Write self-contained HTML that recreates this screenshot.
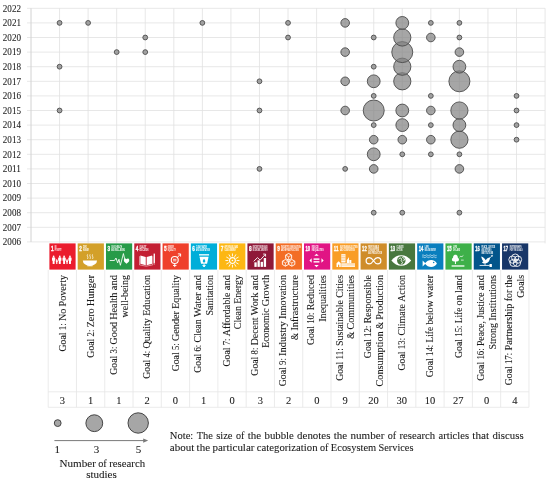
<!DOCTYPE html>
<html lang="en"><head><meta charset="utf-8"><title>Ecosystem services research mapped to the Sustainable Development Goals</title>
<style>
html,body{margin:0;padding:0;background:#fff;}
body{width:550px;height:481px;overflow:hidden;font-family:"Liberation Serif","DejaVu Serif",serif;}
svg{display:block;}
text{font-family:"Liberation Serif","DejaVu Serif",serif;fill:#1a1a1a;}
.gl,.ct,.lg,.nt{stroke:#1a1a1a;stroke-width:0.08px;}
.yl{stroke:#111;stroke-width:0.06px;}
.yl{font-size:9.3px;}
.gl{font-size:9.3px;}
.ct{font-size:10.7px;}
.lg{font-size:10px;}
.nt{font-size:10px;}
.num{font-family:"Liberation Sans","DejaVu Sans",sans-serif;font-weight:bold;fill:#fff;font-size:7.2px;stroke:#fff;stroke-width:0.3px;}
.ttl{font-family:"Liberation Sans","DejaVu Sans",sans-serif;font-weight:bold;fill:#fff;font-size:2.6px;}
</style></head><body>
<svg width="550" height="481" viewBox="0 0 550 481">
<rect width="550" height="481" fill="#fff"/>

<g stroke="#e1e1e1" stroke-width="0.8">
<line x1="27" y1="8.30" x2="545.08" y2="8.30" stroke="#d6d6d6" stroke-width="0.6"/>
<line x1="27" y1="22.90" x2="545.08" y2="22.90" stroke="#d6d6d6" stroke-width="0.6"/>
<line x1="27" y1="37.50" x2="545.08" y2="37.50" stroke="#d6d6d6" stroke-width="0.6"/>
<line x1="27" y1="52.10" x2="545.08" y2="52.10" stroke="#d6d6d6" stroke-width="0.6"/>
<line x1="27" y1="66.70" x2="545.08" y2="66.70" stroke="#d6d6d6" stroke-width="0.6"/>
<line x1="27" y1="81.30" x2="545.08" y2="81.30" stroke="#d6d6d6" stroke-width="0.6"/>
<line x1="27" y1="95.90" x2="545.08" y2="95.90" stroke="#d6d6d6" stroke-width="0.6"/>
<line x1="27" y1="110.50" x2="545.08" y2="110.50" stroke="#d6d6d6" stroke-width="0.6"/>
<line x1="27" y1="125.10" x2="545.08" y2="125.10" stroke="#d6d6d6" stroke-width="0.6"/>
<line x1="27" y1="139.70" x2="545.08" y2="139.70" stroke="#d6d6d6" stroke-width="0.6"/>
<line x1="27" y1="154.30" x2="545.08" y2="154.30" stroke="#d6d6d6" stroke-width="0.6"/>
<line x1="27" y1="168.90" x2="545.08" y2="168.90" stroke="#d6d6d6" stroke-width="0.6"/>
<line x1="27" y1="183.50" x2="545.08" y2="183.50" stroke="#d6d6d6" stroke-width="0.6"/>
<line x1="27" y1="198.10" x2="545.08" y2="198.10" stroke="#d6d6d6" stroke-width="0.6"/>
<line x1="27" y1="212.70" x2="545.08" y2="212.70" stroke="#d6d6d6" stroke-width="0.6"/>
<line x1="27" y1="227.30" x2="545.08" y2="227.30" stroke="#d6d6d6" stroke-width="0.6"/>
<line x1="27" y1="241.90" x2="545.08" y2="241.90" stroke="#d6d6d6" stroke-width="0.6"/>
<line x1="31.00" y1="8.30" x2="31.00" y2="241.90" stroke="#d2d2d2" stroke-width="1"/>
<line x1="59.56" y1="8.30" x2="59.56" y2="243.40"/>
<line x1="88.12" y1="8.30" x2="88.12" y2="243.40"/>
<line x1="116.68" y1="8.30" x2="116.68" y2="243.40"/>
<line x1="145.24" y1="8.30" x2="145.24" y2="243.40"/>
<line x1="173.80" y1="8.30" x2="173.80" y2="243.40"/>
<line x1="202.36" y1="8.30" x2="202.36" y2="243.40"/>
<line x1="230.92" y1="8.30" x2="230.92" y2="243.40"/>
<line x1="259.48" y1="8.30" x2="259.48" y2="243.40"/>
<line x1="288.04" y1="8.30" x2="288.04" y2="243.40"/>
<line x1="316.60" y1="8.30" x2="316.60" y2="243.40"/>
<line x1="345.16" y1="8.30" x2="345.16" y2="243.40"/>
<line x1="373.72" y1="8.30" x2="373.72" y2="243.40"/>
<line x1="402.28" y1="8.30" x2="402.28" y2="243.40"/>
<line x1="430.84" y1="8.30" x2="430.84" y2="243.40"/>
<line x1="459.40" y1="8.30" x2="459.40" y2="243.40"/>
<line x1="487.96" y1="8.30" x2="487.96" y2="243.40"/>
<line x1="516.52" y1="8.30" x2="516.52" y2="243.40"/>
<line x1="545.08" y1="8.30" x2="545.08" y2="243.40"/>
</g>
<text class="yl" y="245.10"><tspan x="2.80" textLength="18.20" lengthAdjust="spacingAndGlyphs">2006</tspan></text>
<text class="yl" y="230.50"><tspan x="2.80" textLength="18.20" lengthAdjust="spacingAndGlyphs">2007</tspan></text>
<text class="yl" y="215.90"><tspan x="2.80" textLength="18.20" lengthAdjust="spacingAndGlyphs">2008</tspan></text>
<text class="yl" y="201.30"><tspan x="2.80" textLength="18.20" lengthAdjust="spacingAndGlyphs">2009</tspan></text>
<text class="yl" y="186.70"><tspan x="2.80" textLength="18.20" lengthAdjust="spacingAndGlyphs">2010</tspan></text>
<text class="yl" y="172.10"><tspan x="2.80" textLength="18.20" lengthAdjust="spacingAndGlyphs">2011</tspan></text>
<text class="yl" y="157.50"><tspan x="2.80" textLength="18.20" lengthAdjust="spacingAndGlyphs">2012</tspan></text>
<text class="yl" y="142.90"><tspan x="2.80" textLength="18.20" lengthAdjust="spacingAndGlyphs">2013</tspan></text>
<text class="yl" y="128.30"><tspan x="2.80" textLength="18.20" lengthAdjust="spacingAndGlyphs">2014</tspan></text>
<text class="yl" y="113.70"><tspan x="2.80" textLength="18.20" lengthAdjust="spacingAndGlyphs">2015</tspan></text>
<text class="yl" y="99.10"><tspan x="2.80" textLength="18.20" lengthAdjust="spacingAndGlyphs">2016</tspan></text>
<text class="yl" y="84.50"><tspan x="2.80" textLength="18.20" lengthAdjust="spacingAndGlyphs">2017</tspan></text>
<text class="yl" y="69.90"><tspan x="2.80" textLength="18.20" lengthAdjust="spacingAndGlyphs">2018</tspan></text>
<text class="yl" y="55.30"><tspan x="2.80" textLength="18.20" lengthAdjust="spacingAndGlyphs">2019</tspan></text>
<text class="yl" y="40.70"><tspan x="2.80" textLength="18.20" lengthAdjust="spacingAndGlyphs">2020</tspan></text>
<text class="yl" y="26.10"><tspan x="2.80" textLength="18.20" lengthAdjust="spacingAndGlyphs">2021</tspan></text>
<text class="yl" y="11.50"><tspan x="2.80" textLength="18.20" lengthAdjust="spacingAndGlyphs">2022</tspan></text>
<g fill="#808080" fill-opacity="0.7" stroke="#4a4a4a" stroke-width="0.9">
<circle cx="59.56" cy="110.50" r="2.40"/>
<circle cx="59.56" cy="66.70" r="2.40"/>
<circle cx="59.56" cy="22.90" r="2.40"/>
<circle cx="88.12" cy="22.90" r="2.40"/>
<circle cx="116.68" cy="52.10" r="2.40"/>
<circle cx="145.24" cy="52.10" r="2.40"/>
<circle cx="145.24" cy="37.50" r="2.40"/>
<circle cx="202.36" cy="22.90" r="2.40"/>
<circle cx="259.48" cy="168.90" r="2.40"/>
<circle cx="259.48" cy="110.50" r="2.40"/>
<circle cx="259.48" cy="81.30" r="2.40"/>
<circle cx="288.04" cy="37.50" r="2.40"/>
<circle cx="288.04" cy="22.90" r="2.40"/>
<circle cx="345.16" cy="168.90" r="2.40"/>
<circle cx="345.16" cy="110.50" r="4.30"/>
<circle cx="345.16" cy="81.30" r="4.30"/>
<circle cx="345.16" cy="52.10" r="4.30"/>
<circle cx="345.16" cy="22.90" r="4.30"/>
<circle cx="373.72" cy="212.70" r="2.40"/>
<circle cx="373.72" cy="168.90" r="4.30"/>
<circle cx="373.72" cy="154.30" r="6.40"/>
<circle cx="373.72" cy="139.70" r="4.30"/>
<circle cx="373.72" cy="125.10" r="2.40"/>
<circle cx="373.72" cy="110.50" r="10.50"/>
<circle cx="373.72" cy="95.90" r="2.40"/>
<circle cx="373.72" cy="81.30" r="6.40"/>
<circle cx="373.72" cy="66.70" r="2.40"/>
<circle cx="373.72" cy="37.50" r="2.40"/>
<circle cx="402.28" cy="212.70" r="2.40"/>
<circle cx="402.28" cy="154.30" r="2.40"/>
<circle cx="402.28" cy="139.70" r="4.30"/>
<circle cx="402.28" cy="125.10" r="6.40"/>
<circle cx="402.28" cy="110.50" r="6.40"/>
<circle cx="402.28" cy="81.30" r="8.60"/>
<circle cx="402.28" cy="66.70" r="8.60"/>
<circle cx="402.28" cy="52.10" r="10.50"/>
<circle cx="402.28" cy="37.50" r="8.60"/>
<circle cx="402.28" cy="22.90" r="6.40"/>
<circle cx="430.84" cy="154.30" r="2.40"/>
<circle cx="430.84" cy="139.70" r="4.30"/>
<circle cx="430.84" cy="125.10" r="2.40"/>
<circle cx="430.84" cy="110.50" r="4.30"/>
<circle cx="430.84" cy="95.90" r="2.40"/>
<circle cx="430.84" cy="37.50" r="4.30"/>
<circle cx="430.84" cy="22.90" r="2.40"/>
<circle cx="459.40" cy="212.70" r="2.40"/>
<circle cx="459.40" cy="168.90" r="4.30"/>
<circle cx="459.40" cy="154.30" r="2.40"/>
<circle cx="459.40" cy="139.70" r="8.60"/>
<circle cx="459.40" cy="125.10" r="6.40"/>
<circle cx="459.40" cy="110.50" r="8.60"/>
<circle cx="459.40" cy="81.30" r="10.50"/>
<circle cx="459.40" cy="66.70" r="6.40"/>
<circle cx="459.40" cy="52.10" r="4.30"/>
<circle cx="459.40" cy="37.50" r="2.40"/>
<circle cx="459.40" cy="22.90" r="2.40"/>
<circle cx="516.52" cy="139.70" r="2.40"/>
<circle cx="516.52" cy="125.10" r="2.40"/>
<circle cx="516.52" cy="110.50" r="2.40"/>
<circle cx="516.52" cy="95.90" r="2.40"/>
</g>
<g stroke="#e6e6e6" stroke-width="0.8">
<line x1="48.20" y1="270.0" x2="48.20" y2="407.3"/>
<line x1="76.48" y1="270.0" x2="76.48" y2="407.3"/>
<line x1="104.76" y1="270.0" x2="104.76" y2="407.3"/>
<line x1="133.04" y1="270.0" x2="133.04" y2="407.3"/>
<line x1="161.32" y1="270.0" x2="161.32" y2="407.3"/>
<line x1="189.60" y1="270.0" x2="189.60" y2="407.3"/>
<line x1="217.88" y1="270.0" x2="217.88" y2="407.3"/>
<line x1="246.16" y1="270.0" x2="246.16" y2="407.3"/>
<line x1="274.44" y1="270.0" x2="274.44" y2="407.3"/>
<line x1="302.72" y1="270.0" x2="302.72" y2="407.3"/>
<line x1="331.00" y1="270.0" x2="331.00" y2="407.3"/>
<line x1="359.28" y1="270.0" x2="359.28" y2="407.3"/>
<line x1="387.56" y1="270.0" x2="387.56" y2="407.3"/>
<line x1="415.84" y1="270.0" x2="415.84" y2="407.3"/>
<line x1="444.12" y1="270.0" x2="444.12" y2="407.3"/>
<line x1="472.40" y1="270.0" x2="472.40" y2="407.3"/>
<line x1="500.68" y1="270.0" x2="500.68" y2="407.3"/>
<line x1="528.96" y1="270.0" x2="528.96" y2="407.3"/>
<line x1="48.2" y1="391.8" x2="528.96" y2="391.8"/>
<line x1="48.2" y1="407.3" x2="528.96" y2="407.3"/>
</g>
<g transform="translate(49.40 243.4) scale(1.0077)">
<rect width="26" height="26" fill="#EB1C2D"/>
<text class="num" x="1.5" y="7.6" textLength="2.6" lengthAdjust="spacingAndGlyphs">1</text>
<text class="ttl" x="5.2" y="4.20" textLength="1.96" lengthAdjust="spacingAndGlyphs">NO</text>
<text class="ttl" x="5.2" y="7.45" textLength="6.86" lengthAdjust="spacingAndGlyphs">POVERTY</text>
<circle cx="4.2" cy="12.76" r="0.86" fill="#fff"/><rect x="2.60" y="13.88" width="3.20" height="3.40" rx="0.6" fill="#fff"/><rect x="3.24" y="13.88" width="1.92" height="6.52" fill="#fff"/><circle cx="10.3" cy="12.76" r="0.86" fill="#fff"/><rect x="8.70" y="13.88" width="3.20" height="3.40" rx="0.6" fill="#fff"/><rect x="9.34" y="13.88" width="1.92" height="6.52" fill="#fff"/><circle cx="14.6" cy="12.76" r="0.86" fill="#fff"/><rect x="13.00" y="13.88" width="3.20" height="3.40" rx="0.6" fill="#fff"/><rect x="13.64" y="13.88" width="1.92" height="6.52" fill="#fff"/><circle cx="20.4" cy="12.76" r="0.86" fill="#fff"/><rect x="18.80" y="13.88" width="3.20" height="3.40" rx="0.6" fill="#fff"/><rect x="19.44" y="13.88" width="1.92" height="6.52" fill="#fff"/><circle cx="7.3" cy="15.91" r="0.51" fill="#fff"/><rect x="6.35" y="16.68" width="1.90" height="2.00" rx="0.6" fill="#fff"/><rect x="6.73" y="16.68" width="1.14" height="3.72" fill="#fff"/><circle cx="17.5" cy="15.91" r="0.51" fill="#fff"/><rect x="16.55" y="16.68" width="1.90" height="2.00" rx="0.6" fill="#fff"/><rect x="16.93" y="16.68" width="1.14" height="3.72" fill="#fff"/>
</g>
<g transform="translate(77.69 243.4) scale(1.0077)">
<rect width="26" height="26" fill="#D3A029"/>
<text class="num" x="1.5" y="7.6" textLength="2.6" lengthAdjust="spacingAndGlyphs">2</text>
<text class="ttl" x="5.2" y="4.20" textLength="3.92" lengthAdjust="spacingAndGlyphs">ZERO</text>
<text class="ttl" x="5.2" y="7.45" textLength="5.88" lengthAdjust="spacingAndGlyphs">HUNGER</text>
<path d="M5.1 16.9h14.100a7.050 5.500 0 0 1-14.100 0z" fill="#fff"/><rect x="9.600" y="21.900" width="5.100" height="0.800" fill="#fff"/><path d="M9.800 10.900c-1.100 1.300 1.100 2.300 0 4.500M12.300 10.900c-1.100 1.300 1.100 2.300 0 4.500M14.800 10.900c-1.100 1.300 1.100 2.300 0 4.500" fill="none" stroke="#fff" stroke-width="0.75"/>
</g>
<g transform="translate(105.98 243.4) scale(1.0077)">
<rect width="26" height="26" fill="#279B48"/>
<text class="num" x="1.5" y="7.6" textLength="2.6" lengthAdjust="spacingAndGlyphs">3</text>
<text class="ttl" x="5.2" y="4.20" textLength="10.78" lengthAdjust="spacingAndGlyphs">GOOD HEALTH</text>
<text class="ttl" x="5.2" y="7.45" textLength="13.72" lengthAdjust="spacingAndGlyphs">AND WELL-BEING</text>
<path d="M3.700 17h4.700l1.500-2.500 1.700 4.800 1.300-3.600 1.400 6 3-11.600 1.300 5.400" fill="none" stroke="#fff" stroke-width="0.85" stroke-linejoin="round"/><path d="M20.400 20.100c-1.700-1.300-2.700-2.300-2.700-3.500 0-1 .7-1.600 1.400-1.600.6 0 1.100.3 1.300.8.200-.5.700-.8 1.300-.8.700 0 1.400.6 1.400 1.600 0 1.200-1 2.200-2.700 3.500z" fill="#fff"/>
</g>
<g transform="translate(134.27 243.4) scale(1.0077)">
<rect width="26" height="26" fill="#C31F33"/>
<text class="num" x="1.5" y="7.6" textLength="2.6" lengthAdjust="spacingAndGlyphs">4</text>
<text class="ttl" x="5.2" y="4.20" textLength="6.86" lengthAdjust="spacingAndGlyphs">QUALITY</text>
<text class="ttl" x="5.2" y="7.45" textLength="8.82" lengthAdjust="spacingAndGlyphs">EDUCATION</text>
<path d="M6 11.900l5.400 1.700v8.100L6 20.300zM17.700 11.900l-5.400 1.700v8.100l5.400-1.400z" fill="#fff"/><path d="M5.200 12.700v8.600l6.600 1.300 6.600-1.300v-8.600" fill="none" stroke="#fff" stroke-width="0.5"/><rect x="19.200" y="10.100" width="1.300" height="9.300" fill="#fff"/><path d="M19.200 19.900h1.300l-.65 1.300z" fill="#fff"/>
</g>
<g transform="translate(162.56 243.4) scale(1.0077)">
<rect width="26" height="26" fill="#EF402B"/>
<text class="num" x="1.5" y="7.6" textLength="2.6" lengthAdjust="spacingAndGlyphs">5</text>
<text class="ttl" x="5.2" y="4.20" textLength="5.88" lengthAdjust="spacingAndGlyphs">GENDER</text>
<text class="ttl" x="5.2" y="7.45" textLength="7.84" lengthAdjust="spacingAndGlyphs">EQUALITY</text>
<circle cx="12.1" cy="16.5" r="3.450" fill="none" stroke="#fff" stroke-width="1.1"/><path d="M12.100 20v3.500M10.400 21.900h3.400M14.600 14l3.100-3.300M15.200 10.400h2.700v2.700" fill="none" stroke="#fff" stroke-width="0.95"/><path d="M10.400 15.800h3.400M10.400 17.300h3.400" fill="none" stroke="#fff" stroke-width="0.800"/>
</g>
<g transform="translate(190.85 243.4) scale(1.0077)">
<rect width="26" height="26" fill="#00AED9"/>
<text class="num" x="1.5" y="7.6" textLength="2.6" lengthAdjust="spacingAndGlyphs">6</text>
<text class="ttl" x="5.2" y="4.20" textLength="10.78" lengthAdjust="spacingAndGlyphs">CLEAN WATER</text>
<text class="ttl" x="5.2" y="7.45" textLength="13.72" lengthAdjust="spacingAndGlyphs">AND SANITATION</text>
<path d="M8.100 10.700h10v1.300h-10z" fill="#fff"/><path d="M8.600 13.200h9l-1.500 6.900h-6z" fill="#fff"/><path d="M13.100 20.100v2M11.800 22l1.300 1.400 1.300-1.400z" fill="none" stroke="#fff" stroke-width="0.9"/><path d="M13.100 15.200c.9 1.200 1.250 1.800 1.250 2.400a1.250 1.250 0 0 1-2.500 0c0-.6.350-1.200 1.250-2.400z" fill="#00AED9"/>
</g>
<g transform="translate(219.14 243.4) scale(1.0077)">
<rect width="26" height="26" fill="#FDB713"/>
<text class="num" x="1.5" y="7.6" textLength="2.6" lengthAdjust="spacingAndGlyphs">7</text>
<text class="ttl" x="5.2" y="4.20" textLength="13.72" lengthAdjust="spacingAndGlyphs">AFFORDABLE AND</text>
<text class="ttl" x="5.2" y="7.45" textLength="11.76" lengthAdjust="spacingAndGlyphs">CLEAN ENERGY</text>
<circle cx="13.2" cy="17" r="2.900" fill="none" stroke="#fff" stroke-width="1.1"/><circle cx="13.2" cy="17" r="0.800" fill="#fff"/><path d="M17.70 17.00L19.80 17.00" fill="none" stroke="#fff" stroke-width="0.9" stroke-linecap="round"/><path d="M17.10 19.25L18.92 20.30" fill="none" stroke="#fff" stroke-width="0.9" stroke-linecap="round"/><path d="M15.45 20.90L16.50 22.72" fill="none" stroke="#fff" stroke-width="0.9" stroke-linecap="round"/><path d="M13.20 21.50L13.20 23.60" fill="none" stroke="#fff" stroke-width="0.9" stroke-linecap="round"/><path d="M10.95 20.90L9.90 22.72" fill="none" stroke="#fff" stroke-width="0.9" stroke-linecap="round"/><path d="M9.30 19.25L7.48 20.30" fill="none" stroke="#fff" stroke-width="0.9" stroke-linecap="round"/><path d="M8.70 17.00L6.60 17.00" fill="none" stroke="#fff" stroke-width="0.9" stroke-linecap="round"/><path d="M9.30 14.75L7.48 13.70" fill="none" stroke="#fff" stroke-width="0.9" stroke-linecap="round"/><path d="M10.95 13.10L9.90 11.28" fill="none" stroke="#fff" stroke-width="0.9" stroke-linecap="round"/><path d="M13.20 12.50L13.20 10.40" fill="none" stroke="#fff" stroke-width="0.9" stroke-linecap="round"/><path d="M15.45 13.10L16.50 11.28" fill="none" stroke="#fff" stroke-width="0.9" stroke-linecap="round"/><path d="M17.10 14.75L18.92 13.70" fill="none" stroke="#fff" stroke-width="0.9" stroke-linecap="round"/>
</g>
<g transform="translate(247.43 243.4) scale(1.0077)">
<rect width="26" height="26" fill="#8F1838"/>
<text class="num" x="1.5" y="7.6" textLength="2.6" lengthAdjust="spacingAndGlyphs">8</text>
<text class="ttl" x="5.2" y="4.20" textLength="14.70" lengthAdjust="spacingAndGlyphs">DECENT WORK AND</text>
<text class="ttl" x="5.2" y="7.45" textLength="14.70" lengthAdjust="spacingAndGlyphs">ECONOMIC GROWTH</text>
<rect x="6.900" y="18.800" width="2.300" height="4.500" fill="#fff"/><rect x="10" y="16.800" width="2.300" height="6.500" fill="#fff"/><rect x="13.100" y="18.300" width="2.300" height="5" fill="#fff"/><rect x="16.200" y="14.500" width="2.300" height="8.800" fill="#fff"/><path d="M6.200 17.800l3.800-3.700 2.600 2.500 5-5.500M15.600 10.600h2.400v2.500" fill="none" stroke="#fff" stroke-width="0.9"/>
</g>
<g transform="translate(275.72 243.4) scale(1.0077)">
<rect width="26" height="26" fill="#F36D25"/>
<text class="num" x="1.5" y="7.6" textLength="2.6" lengthAdjust="spacingAndGlyphs">9</text>
<text class="ttl" x="5.2" y="4.20" textLength="19.60" lengthAdjust="spacingAndGlyphs">INDUSTRY, INNOVATION</text>
<text class="ttl" x="5.2" y="7.45" textLength="17.64" lengthAdjust="spacingAndGlyphs">AND INFRASTRUCTURE</text>
<path d="M12.8 10.0l2.97 1.65v3.30l-2.97 1.65l-2.97 -1.65v-3.30z" fill="none" stroke="#fff" stroke-width="0.9" stroke-linejoin="round"/><path d="M9.83 11.65l2.97 1.65l2.97 -1.65M12.8 13.3v3.3" fill="none" stroke="#fff" stroke-width="0.7"/><path d="M9.6 16.0l2.97 1.65v3.30l-2.97 1.65l-2.97 -1.65v-3.30z" fill="none" stroke="#fff" stroke-width="0.9" stroke-linejoin="round"/><path d="M6.63 17.65l2.97 1.65l2.97 -1.65M9.6 19.3v3.3" fill="none" stroke="#fff" stroke-width="0.7"/><path d="M16 16.0l2.97 1.65v3.30l-2.97 1.65l-2.97 -1.65v-3.30z" fill="none" stroke="#fff" stroke-width="0.9" stroke-linejoin="round"/><path d="M13.03 17.65l2.97 1.65l2.97 -1.65M16 19.3v3.3" fill="none" stroke="#fff" stroke-width="0.7"/>
</g>
<g transform="translate(304.01 243.4) scale(1.0077)">
<rect width="26" height="26" fill="#E11484"/>
<text class="num" x="1.5" y="7.6" textLength="4.6" lengthAdjust="spacingAndGlyphs">10</text>
<text class="ttl" x="7.6" y="4.20" textLength="6.86" lengthAdjust="spacingAndGlyphs">REDUCED</text>
<text class="ttl" x="7.6" y="7.45" textLength="11.76" lengthAdjust="spacingAndGlyphs">INEQUALITIES</text>
<rect x="9.500" y="14.900" width="5.800" height="1.400" fill="#fff"/><rect x="9.500" y="17.600" width="5.800" height="1.400" fill="#fff"/><path d="M12.400 10.200l2.200 2.100h-4.400zM12.400 23.600l2.200-2.100h-4.400zM5.400 16.950l2.200-2.200v4.400zM19.500 16.950l-2.200-2.200v4.400z" fill="#fff"/>
</g>
<g transform="translate(332.30 243.4) scale(1.0077)">
<rect width="26" height="26" fill="#F99D26"/>
<text class="num" x="1.5" y="7.6" textLength="4.6" lengthAdjust="spacingAndGlyphs">11</text>
<text class="ttl" x="7.6" y="4.20" textLength="17.64" lengthAdjust="spacingAndGlyphs">SUSTAINABLE CITIES</text>
<text class="ttl" x="7.6" y="7.45" textLength="14.70" lengthAdjust="spacingAndGlyphs">AND COMMUNITIES</text>
<rect x="8.900" y="10.700" width="4.200" height="8.200" fill="#fff"/><path d="M8.900 12.300h4.200M8.900 13.900h4.200M8.900 15.500h4.200M8.900 17.100h4.200" stroke="#F99D26" stroke-width="0.5"/><path d="M4.200 23.300v-3.600l2.100-2 2.100 2v3.600z" fill="#fff"/><path d="M5.700 23.300v-1.800a.6.6 0 0 1 1.200 0v1.800z" fill="#F99D26"/><rect x="8.900" y="19.800" width="13.600" height="3.500" fill="#fff"/><path d="M14.400 19.800v-3l2.200-3.400v6.400zM16.900 19.800v-3.400h2v3.400z" fill="#fff"/><rect x="8.900" y="21.200" width="13.600" height="0.500" fill="#F99D26"/><path d="M15 20.500h7" stroke="#F99D26" stroke-width="0.4" stroke-dasharray="0.6 0.5"/>
</g>
<g transform="translate(360.59 243.4) scale(1.0077)">
<rect width="26" height="26" fill="#CF8D2A"/>
<text class="num" x="1.5" y="7.6" textLength="4.6" lengthAdjust="spacingAndGlyphs">12</text>
<text class="ttl" x="7.6" y="4.20" textLength="10.78" lengthAdjust="spacingAndGlyphs">RESPONSIBLE</text>
<text class="ttl" x="7.6" y="7.45" textLength="10.78" lengthAdjust="spacingAndGlyphs">CONSUMPTION</text>
<text class="ttl" x="7.6" y="10.70" textLength="13.72" lengthAdjust="spacingAndGlyphs">AND PRODUCTION</text>
<path d="M12.800 17.200c-1.300-2-2.500-3.100-4.200-3.100a3.100 3.100 0 0 0 0 6.200c1.700 0 2.900-1.100 4.200-3.100s2.500-3.100 4.200-3.100a3.100 3.100 0 0 1 0 6.200c-1.700 0-2.900-1.100-4.200-3.100z" fill="none" stroke="#fff" stroke-width="1.2"/>
</g>
<g transform="translate(388.88 243.4) scale(1.0077)">
<rect width="26" height="26" fill="#48773E"/>
<text class="num" x="1.5" y="7.6" textLength="4.6" lengthAdjust="spacingAndGlyphs">13</text>
<text class="ttl" x="7.6" y="4.20" textLength="6.86" lengthAdjust="spacingAndGlyphs">CLIMATE</text>
<text class="ttl" x="7.6" y="7.45" textLength="5.88" lengthAdjust="spacingAndGlyphs">ACTION</text>
<path d="M2.500 17c2.700-3.600 6-5.300 9.800-5.300s7.100 1.700 9.800 5.300c-2.700 3.600-6 5.300-9.800 5.300s-7.100-1.700-9.800-5.300z" fill="#fff"/><circle cx="12.300" cy="17" r="4.200" fill="#48773E"/><path d="M9.600 15.600c.8-1.200 2-1.400 2.800-.6.600.8-.4 1.600-.2 2.400.2.800 1.200.6 1.400 1.600.1.600-.4 1.200-1.200 1.400M13.600 13.900c1.200.4 2 1.400 2.200 2.600-.6-.2-1.200-.2-1.600.4" fill="none" stroke="#fff" stroke-width="0.9" stroke-linecap="round"/>
</g>
<g transform="translate(417.17 243.4) scale(1.0077)">
<rect width="26" height="26" fill="#0A7FBE"/>
<text class="num" x="1.5" y="7.6" textLength="4.6" lengthAdjust="spacingAndGlyphs">14</text>
<text class="ttl" x="7.6" y="4.20" textLength="3.92" lengthAdjust="spacingAndGlyphs">LIFE</text>
<text class="ttl" x="7.6" y="7.45" textLength="10.78" lengthAdjust="spacingAndGlyphs">BELOW WATER</text>
<path d="M4.900 11.800q.9-.9 1.800 0t1.800 0 1.800 0 1.800 0 1.800 0 1.800 0 1.800 0 1.800 0" fill="none" stroke="#fff" stroke-width="0.600"/><path d="M4.900 13.700q.9-.9 1.800 0t1.800 0 1.800 0 1.800 0 1.800 0 1.800 0 1.800 0 1.800 0" fill="none" stroke="#fff" stroke-width="0.600"/><path d="M7.600 19.900c1.700-2.400 4-3.500 6.300-3.500 2.500 0 4.700 1.400 5.700 3.500-1 2.100-3.200 3.500-5.700 3.500-2.300 0-4.600-1.100-6.300-3.500z" fill="#fff"/><path d="M8.400 19.900l-3-3v6z" fill="#fff"/><circle cx="16.400" cy="18.900" r="0.750" fill="#0A7FBE"/>
</g>
<g transform="translate(445.46 243.4) scale(1.0077)">
<rect width="26" height="26" fill="#3EB049"/>
<text class="num" x="1.5" y="7.6" textLength="4.6" lengthAdjust="spacingAndGlyphs">15</text>
<text class="ttl" x="7.6" y="4.20" textLength="3.92" lengthAdjust="spacingAndGlyphs">LIFE</text>
<text class="ttl" x="7.6" y="7.45" textLength="6.86" lengthAdjust="spacingAndGlyphs">ON LAND</text>
<path d="M8.600 18c-1.500 0-2.200-.9-2.200-2 0-.9.500-1.500 1.100-1.800 0-1.900 1-3 2.400-3s2.400 1.100 2.400 3c.6.300 1.100.9 1.100 1.800 0 1.100-.7 2-2.200 2z" fill="#fff"/><rect x="9.400" y="17.500" width="1" height="3" fill="#fff"/><rect x="6.100" y="21.500" width="12.700" height="1.800" fill="#fff" opacity="0.72"/><path d="M14 13.600l1.300-.9 1 .5 1.500-1.300M15.400 16.600h2.700" fill="none" stroke="#fff" stroke-width="0.700"/>
</g>
<g transform="translate(473.75 243.4) scale(1.0077)">
<rect width="26" height="26" fill="#02558B"/>
<text class="num" x="1.5" y="7.6" textLength="4.6" lengthAdjust="spacingAndGlyphs">16</text>
<text class="ttl" x="7.6" y="4.20" textLength="13.72" lengthAdjust="spacingAndGlyphs">PEACE, JUSTICE</text>
<text class="ttl" x="7.6" y="7.45" textLength="9.80" lengthAdjust="spacingAndGlyphs">AND STRONG</text>
<text class="ttl" x="7.6" y="10.70" textLength="11.76" lengthAdjust="spacingAndGlyphs">INSTITUTIONS</text>
<path d="M7.400 12.900c2 .5 3.600 1.900 4.500 3.800.8-1.400 2.300-2.500 4.400-2.900-.3 3.300-1.800 5.600-4.600 6.100-1.500.3-2.800-.2-3.600-1.200l1.500-.9c-1-1.200-1.800-2.800-2.200-4.900z" fill="#fff"/><path d="M15.200 15.400l3.200-3.400M17 12.300l1.600-.6-.4 1.700" fill="none" stroke="#fff" stroke-width="0.650"/><path d="M5.800 21.900h10" fill="none" stroke="#fff" stroke-width="0.800"/><rect x="15.600" y="20.400" width="2.400" height="3" rx="0.300" fill="#fff"/><path d="M11.200 19.800v2" fill="none" stroke="#fff" stroke-width="0.800"/>
</g>
<g transform="translate(502.04 243.4) scale(1.0077)">
<rect width="26" height="26" fill="#183668"/>
<text class="num" x="1.5" y="7.6" textLength="4.6" lengthAdjust="spacingAndGlyphs">17</text>
<text class="ttl" x="7.6" y="4.20" textLength="11.76" lengthAdjust="spacingAndGlyphs">PARTNERSHIPS</text>
<text class="ttl" x="7.6" y="7.45" textLength="12.74" lengthAdjust="spacingAndGlyphs">FOR THE GOALS</text>
<circle cx="13.10" cy="14.10" r="3.600" fill="none" stroke="#fff" stroke-width="0.850"/><circle cx="15.86" cy="16.10" r="3.600" fill="none" stroke="#fff" stroke-width="0.850"/><circle cx="14.80" cy="19.35" r="3.600" fill="none" stroke="#fff" stroke-width="0.850"/><circle cx="11.40" cy="19.35" r="3.600" fill="none" stroke="#fff" stroke-width="0.850"/><circle cx="10.34" cy="16.10" r="3.600" fill="none" stroke="#fff" stroke-width="0.850"/>
</g>
<text class="gl" y="0.00" transform="translate(65.64 275.0) rotate(-90)"><tspan x="-76.45" textLength="19.00" lengthAdjust="spacingAndGlyphs">Goal</tspan> <tspan x="-55.19" textLength="6.79" lengthAdjust="spacingAndGlyphs">1:</tspan> <tspan x="-46.14" textLength="12.46" lengthAdjust="spacingAndGlyphs">No</tspan> <tspan x="-31.41" textLength="31.41" lengthAdjust="spacingAndGlyphs">Poverty</tspan></text>
<text class="gl" y="0.00" transform="translate(93.92 275.0) rotate(-90)"><tspan x="-82.66" textLength="19.00" lengthAdjust="spacingAndGlyphs">Goal</tspan> <tspan x="-61.40" textLength="6.79" lengthAdjust="spacingAndGlyphs">2:</tspan> <tspan x="-52.35" textLength="18.89" lengthAdjust="spacingAndGlyphs">Zero</tspan> <tspan x="-31.20" textLength="31.20" lengthAdjust="spacingAndGlyphs">Hunger</tspan></text>
<text class="gl" y="0.00" transform="translate(116.50 275.0) rotate(-90)"><tspan x="-99.72" textLength="19.00" lengthAdjust="spacingAndGlyphs">Goal</tspan> <tspan x="-78.45" textLength="6.79" lengthAdjust="spacingAndGlyphs">3:</tspan> <tspan x="-69.40" textLength="22.32" lengthAdjust="spacingAndGlyphs">Good</tspan> <tspan x="-44.82" textLength="27.24" lengthAdjust="spacingAndGlyphs">Health</tspan> <tspan x="-15.32" textLength="15.32" lengthAdjust="spacingAndGlyphs">and</tspan></text>
<text class="gl" y="0.00" transform="translate(128.00 275.0) rotate(-90)"><tspan x="-42.44" textLength="42.44" lengthAdjust="spacingAndGlyphs">well-being</tspan></text>
<text class="gl" y="0.00" transform="translate(150.48 275.0) rotate(-90)"><tspan x="-103.78" textLength="19.00" lengthAdjust="spacingAndGlyphs">Goal</tspan> <tspan x="-82.51" textLength="6.79" lengthAdjust="spacingAndGlyphs">4:</tspan> <tspan x="-73.46" textLength="30.34" lengthAdjust="spacingAndGlyphs">Quality</tspan> <tspan x="-40.85" textLength="40.85" lengthAdjust="spacingAndGlyphs">Education</tspan></text>
<text class="gl" y="0.00" transform="translate(178.76 275.0) rotate(-90)"><tspan x="-96.36" textLength="19.00" lengthAdjust="spacingAndGlyphs">Goal</tspan> <tspan x="-75.09" textLength="6.79" lengthAdjust="spacingAndGlyphs">5:</tspan> <tspan x="-66.04" textLength="29.95" lengthAdjust="spacingAndGlyphs">Gender</tspan> <tspan x="-33.83" textLength="33.83" lengthAdjust="spacingAndGlyphs">Equality</tspan></text>
<text class="gl" y="0.00" transform="translate(201.34 275.0) rotate(-90)"><tspan x="-97.78" textLength="19.00" lengthAdjust="spacingAndGlyphs">Goal</tspan> <tspan x="-76.51" textLength="6.79" lengthAdjust="spacingAndGlyphs">6:</tspan> <tspan x="-67.46" textLength="23.18" lengthAdjust="spacingAndGlyphs">Clean</tspan> <tspan x="-42.02" textLength="24.44" lengthAdjust="spacingAndGlyphs">Water</tspan> <tspan x="-15.32" textLength="15.32" lengthAdjust="spacingAndGlyphs">and</tspan></text>
<text class="gl" y="0.00" transform="translate(212.84 275.0) rotate(-90)"><tspan x="-40.44" textLength="40.44" lengthAdjust="spacingAndGlyphs">Sanitation</tspan></text>
<text class="gl" y="0.00" transform="translate(229.62 275.0) rotate(-90)"><tspan x="-91.51" textLength="19.00" lengthAdjust="spacingAndGlyphs">Goal</tspan> <tspan x="-70.25" textLength="6.79" lengthAdjust="spacingAndGlyphs">7:</tspan> <tspan x="-61.20" textLength="43.61" lengthAdjust="spacingAndGlyphs">Affordable</tspan> <tspan x="-15.32" textLength="15.32" lengthAdjust="spacingAndGlyphs">and</tspan></text>
<text class="gl" y="0.00" transform="translate(241.12 275.0) rotate(-90)"><tspan x="-54.21" textLength="23.18" lengthAdjust="spacingAndGlyphs">Clean</tspan> <tspan x="-28.77" textLength="28.77" lengthAdjust="spacingAndGlyphs">Energy</tspan></text>
<text class="gl" y="0.00" transform="translate(257.90 275.0) rotate(-90)"><tspan x="-100.67" textLength="19.00" lengthAdjust="spacingAndGlyphs">Goal</tspan> <tspan x="-79.40" textLength="6.79" lengthAdjust="spacingAndGlyphs">8:</tspan> <tspan x="-70.35" textLength="27.91" lengthAdjust="spacingAndGlyphs">Decent</tspan> <tspan x="-40.18" textLength="22.60" lengthAdjust="spacingAndGlyphs">Work</tspan> <tspan x="-15.32" textLength="15.32" lengthAdjust="spacingAndGlyphs">and</tspan></text>
<text class="gl" y="0.00" transform="translate(269.40 275.0) rotate(-90)"><tspan x="-72.79" textLength="39.34" lengthAdjust="spacingAndGlyphs">Economic</tspan> <tspan x="-31.19" textLength="31.19" lengthAdjust="spacingAndGlyphs">Growth</tspan></text>
<text class="gl" y="0.00" transform="translate(286.18 275.0) rotate(-90)"><tspan x="-111.23" textLength="19.00" lengthAdjust="spacingAndGlyphs">Goal</tspan> <tspan x="-89.97" textLength="6.79" lengthAdjust="spacingAndGlyphs">9:</tspan> <tspan x="-80.92" textLength="34.70" lengthAdjust="spacingAndGlyphs">Industry</tspan> <tspan x="-43.96" textLength="43.96" lengthAdjust="spacingAndGlyphs">Innovation</tspan></text>
<text class="gl" y="0.00" transform="translate(297.68 275.0) rotate(-90)"><tspan x="-64.89" textLength="7.04" lengthAdjust="spacingAndGlyphs">&amp;</tspan> <tspan x="-55.59" textLength="55.59" lengthAdjust="spacingAndGlyphs">Infrastructure</tspan></text>
<text class="gl" y="0.00" transform="translate(314.46 275.0) rotate(-90)"><tspan x="-70.09" textLength="19.00" lengthAdjust="spacingAndGlyphs">Goal</tspan> <tspan x="-48.82" textLength="11.31" lengthAdjust="spacingAndGlyphs">10:</tspan> <tspan x="-35.25" textLength="35.25" lengthAdjust="spacingAndGlyphs">Reduced</tspan></text>
<text class="gl" y="0.00" transform="translate(325.96 275.0) rotate(-90)"><tspan x="-46.73" textLength="46.73" lengthAdjust="spacingAndGlyphs">Inequalities</tspan></text>
<text class="gl" y="0.00" transform="translate(342.74 275.0) rotate(-90)"><tspan x="-105.83" textLength="19.00" lengthAdjust="spacingAndGlyphs">Goal</tspan> <tspan x="-84.56" textLength="11.31" lengthAdjust="spacingAndGlyphs">11:</tspan> <tspan x="-70.99" textLength="45.92" lengthAdjust="spacingAndGlyphs">Sustainable</tspan> <tspan x="-22.81" textLength="22.81" lengthAdjust="spacingAndGlyphs">Cities</tspan></text>
<text class="gl" y="0.00" transform="translate(354.24 275.0) rotate(-90)"><tspan x="-63.76" textLength="7.04" lengthAdjust="spacingAndGlyphs">&amp;</tspan> <tspan x="-54.45" textLength="54.45" lengthAdjust="spacingAndGlyphs">Communities</tspan></text>
<text class="gl" y="0.00" transform="translate(371.02 275.0) rotate(-90)"><tspan x="-83.15" textLength="19.00" lengthAdjust="spacingAndGlyphs">Goal</tspan> <tspan x="-61.88" textLength="11.31" lengthAdjust="spacingAndGlyphs">12:</tspan> <tspan x="-48.31" textLength="48.31" lengthAdjust="spacingAndGlyphs">Responsible</tspan></text>
<text class="gl" y="0.00" transform="translate(382.52 275.0) rotate(-90)"><tspan x="-111.49" textLength="55.14" lengthAdjust="spacingAndGlyphs">Consumption</tspan> <tspan x="-54.08" textLength="7.04" lengthAdjust="spacingAndGlyphs">&amp;</tspan> <tspan x="-44.78" textLength="44.78" lengthAdjust="spacingAndGlyphs">Production</tspan></text>
<text class="gl" y="0.00" transform="translate(405.00 275.0) rotate(-90)"><tspan x="-95.44" textLength="19.00" lengthAdjust="spacingAndGlyphs">Goal</tspan> <tspan x="-74.17" textLength="11.31" lengthAdjust="spacingAndGlyphs">13:</tspan> <tspan x="-60.60" textLength="31.48" lengthAdjust="spacingAndGlyphs">Climate</tspan> <tspan x="-26.85" textLength="26.85" lengthAdjust="spacingAndGlyphs">Action</tspan></text>
<text class="gl" y="0.00" transform="translate(433.28 275.0) rotate(-90)"><tspan x="-102.27" textLength="19.00" lengthAdjust="spacingAndGlyphs">Goal</tspan> <tspan x="-81.01" textLength="11.31" lengthAdjust="spacingAndGlyphs">14:</tspan> <tspan x="-67.43" textLength="15.51" lengthAdjust="spacingAndGlyphs">Life</tspan> <tspan x="-49.66" textLength="24.46" lengthAdjust="spacingAndGlyphs">below</tspan> <tspan x="-22.93" textLength="22.93" lengthAdjust="spacingAndGlyphs">water</tspan></text>
<text class="gl" y="0.00" transform="translate(461.56 275.0) rotate(-90)"><tspan x="-83.04" textLength="19.00" lengthAdjust="spacingAndGlyphs">Goal</tspan> <tspan x="-61.78" textLength="11.31" lengthAdjust="spacingAndGlyphs">15:</tspan> <tspan x="-48.20" textLength="15.51" lengthAdjust="spacingAndGlyphs">Life</tspan> <tspan x="-30.43" textLength="10.21" lengthAdjust="spacingAndGlyphs">on</tspan> <tspan x="-17.96" textLength="17.96" lengthAdjust="spacingAndGlyphs">land</tspan></text>
<text class="gl" y="0.00" transform="translate(484.14 275.0) rotate(-90)"><tspan x="-105.88" textLength="19.00" lengthAdjust="spacingAndGlyphs">Goal</tspan> <tspan x="-84.61" textLength="11.31" lengthAdjust="spacingAndGlyphs">16:</tspan> <tspan x="-71.03" textLength="24.94" lengthAdjust="spacingAndGlyphs">Peace,</tspan> <tspan x="-43.83" textLength="26.25" lengthAdjust="spacingAndGlyphs">Justice</tspan> <tspan x="-15.32" textLength="15.32" lengthAdjust="spacingAndGlyphs">and</tspan></text>
<text class="gl" y="0.00" transform="translate(495.64 275.0) rotate(-90)"><tspan x="-74.55" textLength="26.52" lengthAdjust="spacingAndGlyphs">Strong</tspan> <tspan x="-45.77" textLength="45.77" lengthAdjust="spacingAndGlyphs">Institutions</tspan></text>
<text class="gl" y="0.00" transform="translate(512.42 275.0) rotate(-90)"><tspan x="-110.32" textLength="19.00" lengthAdjust="spacingAndGlyphs">Goal</tspan> <tspan x="-89.05" textLength="11.31" lengthAdjust="spacingAndGlyphs">17:</tspan> <tspan x="-75.48" textLength="46.87" lengthAdjust="spacingAndGlyphs">Partnership</tspan> <tspan x="-26.34" textLength="11.53" lengthAdjust="spacingAndGlyphs">for</tspan> <tspan x="-12.55" textLength="12.55" lengthAdjust="spacingAndGlyphs">the</tspan></text>
<text class="gl" y="0.00" transform="translate(523.92 275.0) rotate(-90)"><tspan x="-22.84" textLength="22.84" lengthAdjust="spacingAndGlyphs">Goals</tspan></text>
<text class="ct" y="403.80"><tspan x="59.72" textLength="5.25" lengthAdjust="spacingAndGlyphs">3</tspan></text>
<text class="ct" y="403.80"><tspan x="88.00" textLength="5.25" lengthAdjust="spacingAndGlyphs">1</tspan></text>
<text class="ct" y="403.80"><tspan x="116.28" textLength="5.25" lengthAdjust="spacingAndGlyphs">1</tspan></text>
<text class="ct" y="403.80"><tspan x="144.56" textLength="5.25" lengthAdjust="spacingAndGlyphs">2</tspan></text>
<text class="ct" y="403.80"><tspan x="172.84" textLength="5.25" lengthAdjust="spacingAndGlyphs">0</tspan></text>
<text class="ct" y="403.80"><tspan x="201.12" textLength="5.25" lengthAdjust="spacingAndGlyphs">1</tspan></text>
<text class="ct" y="403.80"><tspan x="229.39" textLength="5.25" lengthAdjust="spacingAndGlyphs">0</tspan></text>
<text class="ct" y="403.80"><tspan x="257.68" textLength="5.25" lengthAdjust="spacingAndGlyphs">3</tspan></text>
<text class="ct" y="403.80"><tspan x="285.95" textLength="5.25" lengthAdjust="spacingAndGlyphs">2</tspan></text>
<text class="ct" y="403.80"><tspan x="314.24" textLength="5.25" lengthAdjust="spacingAndGlyphs">0</tspan></text>
<text class="ct" y="403.80"><tspan x="342.51" textLength="5.25" lengthAdjust="spacingAndGlyphs">9</tspan></text>
<text class="ct" y="403.80"><tspan x="368.17" textLength="10.50" lengthAdjust="spacingAndGlyphs">20</tspan></text>
<text class="ct" y="403.80"><tspan x="396.45" textLength="10.50" lengthAdjust="spacingAndGlyphs">30</tspan></text>
<text class="ct" y="403.80"><tspan x="424.73" textLength="10.50" lengthAdjust="spacingAndGlyphs">10</tspan></text>
<text class="ct" y="403.80"><tspan x="453.01" textLength="10.50" lengthAdjust="spacingAndGlyphs">27</tspan></text>
<text class="ct" y="403.80"><tspan x="483.92" textLength="5.25" lengthAdjust="spacingAndGlyphs">0</tspan></text>
<text class="ct" y="403.80"><tspan x="512.20" textLength="5.25" lengthAdjust="spacingAndGlyphs">4</tspan></text>
<g fill="#a6a6a6" stroke="#444" stroke-width="1">
<circle cx="57.7" cy="423.1" r="3.4"/><circle cx="94.3" cy="423.2" r="8.4"/><circle cx="138.2" cy="423" r="10.2"/></g>
<path d="M54.4 440.6H144" stroke="#7a7a7a" stroke-width="1" fill="none"/><path d="M148.2 440.6l-5-2.2v4.400z" fill="#7a7a7a"/>
<text class="lg" x="57.2" y="453" text-anchor="middle" style="font-size:11px">1</text>
<text class="lg" x="96.5" y="453" text-anchor="middle" style="font-size:11px">3</text>
<text class="lg" x="138.6" y="453" text-anchor="middle" style="font-size:11px">5</text>
<text class="lg" y="466.50"><tspan x="59.52" textLength="36.32" lengthAdjust="spacingAndGlyphs">Number</tspan> <tspan x="98.26" textLength="8.53" lengthAdjust="spacingAndGlyphs">of</tspan> <tspan x="109.21" textLength="35.87" lengthAdjust="spacingAndGlyphs">research</tspan></text>
<text class="lg" y="477.70"><tspan x="86.18" textLength="30.63" lengthAdjust="spacingAndGlyphs">studies</tspan></text>
<text class="nt" y="439.30"><tspan x="169.80" textLength="23.49" lengthAdjust="spacingAndGlyphs">Note:</tspan> <tspan x="196.65" textLength="16.17" lengthAdjust="spacingAndGlyphs">The</tspan> <tspan x="216.18" textLength="16.36" lengthAdjust="spacingAndGlyphs">size</tspan> <tspan x="235.90" textLength="8.49" lengthAdjust="spacingAndGlyphs">of</tspan> <tspan x="247.74" textLength="13.40" lengthAdjust="spacingAndGlyphs">the</tspan> <tspan x="264.50" textLength="29.29" lengthAdjust="spacingAndGlyphs">bubble</tspan> <tspan x="297.14" textLength="33.30" lengthAdjust="spacingAndGlyphs">denotes</tspan> <tspan x="333.80" textLength="13.40" lengthAdjust="spacingAndGlyphs">the</tspan> <tspan x="350.55" textLength="33.76" lengthAdjust="spacingAndGlyphs">number</tspan> <tspan x="387.67" textLength="8.49" lengthAdjust="spacingAndGlyphs">of</tspan> <tspan x="399.52" textLength="35.72" lengthAdjust="spacingAndGlyphs">research</tspan> <tspan x="438.59" textLength="30.43" lengthAdjust="spacingAndGlyphs">articles</tspan> <tspan x="472.38" textLength="16.75" lengthAdjust="spacingAndGlyphs">that</tspan> <tspan x="492.49" textLength="31.11" lengthAdjust="spacingAndGlyphs">discuss</tspan></text>
<text class="nt" y="450.50"><tspan x="169.80" textLength="24.42" lengthAdjust="spacingAndGlyphs">about</tspan> <tspan x="196.64" textLength="13.40" lengthAdjust="spacingAndGlyphs">the</tspan> <tspan x="212.45" textLength="41.98" lengthAdjust="spacingAndGlyphs">particular</tspan> <tspan x="256.85" textLength="60.68" lengthAdjust="spacingAndGlyphs">categorization</tspan> <tspan x="319.95" textLength="8.49" lengthAdjust="spacingAndGlyphs">of</tspan> <tspan x="330.85" textLength="45.33" lengthAdjust="spacingAndGlyphs">Ecosystem</tspan> <tspan x="378.60" textLength="34.80" lengthAdjust="spacingAndGlyphs">Services</tspan></text>
</svg>
</body></html>
